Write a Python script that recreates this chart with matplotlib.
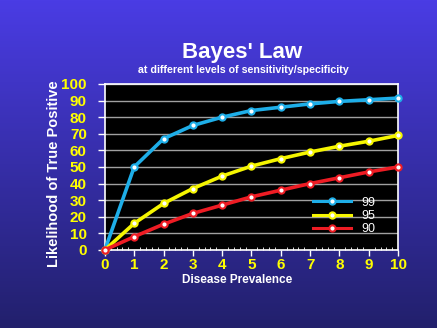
import numpy as np
import matplotlib.pyplot as plt
from matplotlib.ticker import MultipleLocator

plt.rcParams['font.family'] = ['Liberation Sans', 'DejaVu Sans']

prevalence = [0, 1, 2, 3, 4, 5, 6, 7, 8, 9, 10]
sens_99 = [0, 50, 67, 75, 80, 84, 86, 88, 89.5, 90.5, 91.5]
sens_95 = [0, 16, 28, 37, 44.5, 50.5, 55, 59, 62.5, 65.5, 69]
sens_90 = [0, 8, 15.5, 22, 27, 32, 36, 40, 43.5, 47, 50]
series_labels = ['99', '95', '90']
colors = ['#1eaee8', '#f5f500', '#ee1c24']

fig = plt.figure(figsize=(4.37, 3.28), dpi=100)

# gradient background
bg = fig.add_axes([0, 0, 1, 1], zorder=-1)
top = np.array([74, 60, 228]) / 255
bottom = np.array([34, 32, 108]) / 255
t = np.linspace(0, 1, 256)[:, None]
grad = (top * (1 - t) + bottom * t)[:, None, :]
bg.imshow(grad, aspect='auto', extent=[0, 1, 0, 1])
bg.axis('off')

ax = fig.add_axes([0.240, 0.238, 0.671, 0.506])
ax.set_facecolor('black')

for y, lab, c in zip([sens_99, sens_95, sens_90], series_labels, colors):
    ax.plot(prevalence, y, color=c, linewidth=2.6, marker='o', markersize=4.5,
            markerfacecolor='white', markeredgecolor=c, markeredgewidth=1.5,
            label=lab, clip_on=False, zorder=3)

ax.set_xlim(0, 10)
ax.set_ylim(0, 100)
ax.xaxis.set_major_locator(MultipleLocator(1))
ax.xaxis.set_minor_locator(MultipleLocator(0.2))
ax.yaxis.set_major_locator(MultipleLocator(10))
ax.yaxis.grid(True, color='#a0a0a0', linewidth=1)
ax.set_axisbelow(True)

for s in ax.spines.values():
    s.set_color('white')
    s.set_linewidth(1.2)

ax.tick_params(axis='both', which='major', colors='white', length=4, width=1,
               labelcolor='#ffff00', labelsize=11, pad=2)
ax.tick_params(axis='y', which='major', length=5, pad=8)
ax.tick_params(axis='x', which='minor', colors='white', length=2, direction='in')
for lbl in ax.get_xticklabels() + ax.get_yticklabels():
    lbl.set_fontweight('bold')

fig.text(0.543, 0.147, 'Disease Prevalence', color='white', fontsize=8.5,
         fontweight='bold', ha='center', va='center')
fig.text(0.124, 0.47, 'Likelihood of True Positive', color='white',
         fontsize=10.5, fontweight='bold', rotation=90, ha='center', va='center')

leg = ax.legend(loc='center left', bbox_to_anchor=(0.67, 0.205), frameon=False,
                labelcolor='white', fontsize=9, handlelength=3.1,
                handletextpad=0.8, labelspacing=0.1)
for h in leg.get_lines():
    h.set_linewidth(2.2)

fig.text(0.555, 0.84, "Bayes' Law", color='white', fontsize=16,
         fontweight='bold', ha='center', va='center')
fig.text(0.557, 0.788, 'at different levels of sensitivity/specificity',
         color='white', fontsize=7.7, fontweight='bold', ha='center', va='center')

fig.savefig('out.png', dpi=100)
